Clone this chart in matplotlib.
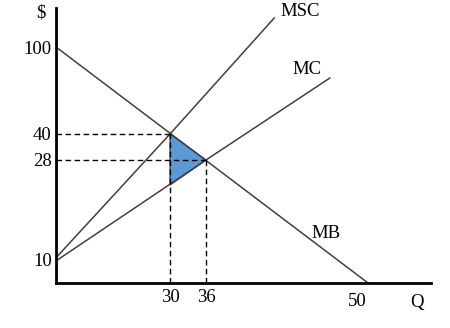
import numpy as np
import matplotlib.pyplot as plt
from matplotlib.scale import FuncScale
from matplotlib.transforms import ScaledTranslation

plt.rcParams['font.family'] = ['Liberation Serif', 'DejaVu Serif']

# schematic axes: value anchors and where they sit (the drawing is not to scale)
q_vals = [0, 30, 36, 50, 60]
q_pos = [0, 114, 150, 312, 375]
p_vals = [0, 10, 28, 40, 100, 120]
p_pos = [0, 23, 123, 149, 236, 275]

# curves (Q, $)
mb_q = [0, 50]
mb_p = [100, 0]
msc_q = [0, 30, 41.9]
msc_p = [10.4, 40, 114.9]
mc_q = [0, 36, 46.7]
mc_p = [9.6, 28, 78.6]

# deadweight loss triangle
dwl_q = [30, 36, 30]
dwl_p = [40, 28, 23.5]

q_ticks = [30, 36, 50]
p_ticks = [10, 28, 40, 100]


def fq(v):
    return np.interp(v, q_vals, q_pos)


def fq_inv(v):
    return np.interp(v, q_pos, q_vals)


def fp(v):
    return np.interp(v, p_vals, p_pos)


def fp_inv(v):
    return np.interp(v, p_pos, p_vals)


W, H = 450, 328
fig = plt.figure(figsize=(4.5, 3.28), dpi=100)
ax = fig.add_axes([56 / W, 45 / H, 375 / W, 275 / H])
ax.set_xscale(FuncScale(ax.xaxis, (fq, fq_inv)))
ax.set_yscale(FuncScale(ax.yaxis, (fp, fp_inv)))
ax.set_xlim(0, 60)
ax.set_ylim(0, 120)

line_col = '#404040'
ax.plot(mb_q, mb_p, color=line_col, lw=1.1)
ax.plot(msc_q, msc_p, color=line_col, lw=1.1)
ax.plot(mc_q, mc_p, color=line_col, lw=1.1)

ax.fill(dwl_q, dwl_p, facecolor='#5b9bd5', edgecolor='#2f4f6f', lw=1)

dash = dict(color='black', lw=1, linestyle=(0, (4, 2.5)))
ax.plot([0, 30], [40, 40], **dash)
ax.plot([0, 36], [28, 28], **dash)
ax.plot([30, 30], [0, 40], **dash)
ax.plot([36, 36], [0, 28], **dash)


def label(x, y, s):
    fig.text(x / W, 1 - y / H, s, fontsize=13.5, ha='center', va='center')


label(300, 12, 'MSC')
label(307, 70, 'MC')
label(326, 233, 'MB')
label(41, 13, '$')
label(417, 303, 'Q')

ax.set_xticks(q_ticks)
ax.set_xticklabels([str(t) for t in q_ticks])
ax.set_yticks(p_ticks)
ax.set_yticklabels([str(t) for t in p_ticks])
ax.tick_params(length=0, labelsize=13.5, pad=4)
ax.tick_params(axis='y', pad=3)
ax.minorticks_off()

lbl = ax.get_xticklabels()[2]
lbl.set_transform(lbl.get_transform() + ScaledTranslation(-0.11, -0.04, fig.dpi_scale_trans))

for s in ['top', 'right']:
    ax.spines[s].set_visible(False)
for s in ['left', 'bottom']:
    ax.spines[s].set_linewidth(2)

plt.savefig('out.png', dpi=100)
